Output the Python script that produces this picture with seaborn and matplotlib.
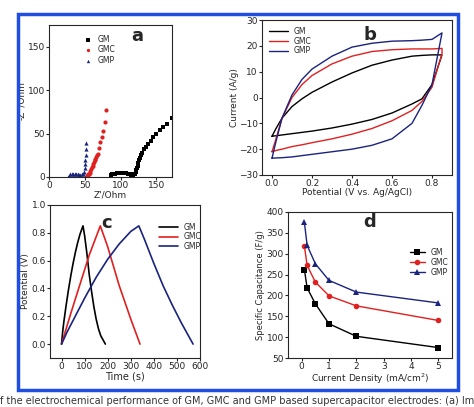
import numpy as np
import pandas as pd
import matplotlib
matplotlib.use("Agg")
import matplotlib.pyplot as plt
import seaborn as sns
from matplotlib.patches import Rectangle

sns.set_style("ticks")
plt.rcParams['font.family'] = ['DejaVu Sans']

names = ['GM', 'GMC', 'GMP']
colors = ['black', '#e02020', '#1a237e']

# (a) Nyquist
nyq_x = {
    'GM': [86, 88, 90, 92, 95, 98, 101, 104, 107, 110, 113, 115, 117, 118, 119, 120, 121, 122, 123, 124, 125, 126,
           127, 128, 130, 133, 136, 139, 142, 146, 150, 155, 160, 165, 172],
    'GMC': [52, 53, 54, 55, 56, 57, 58, 59, 60, 61, 62, 63, 64, 65, 66, 67, 68, 70, 72, 74, 76, 78, 80],
    'GMP': [26, 28, 30, 32, 34, 36, 38, 40, 42, 44, 46, 48, 49, 50, 50.5, 51, 51.3, 51.6, 52],
}
nyq_y = {
    'GM': [2, 3, 3.5, 4, 4.5, 5, 5, 5, 4.5, 4, 3, 2.5, 2, 2, 3, 4, 6, 8, 10, 13, 16, 19, 22, 25, 28, 32, 35, 38, 42,
           46, 50, 54, 58, 61, 68],
    'GMC': [0, 1, 2, 3, 4, 5, 7, 9, 11, 13, 15, 17, 19, 21, 23, 25, 27, 33, 40, 46, 53, 63, 77],
    'GMP': [0, 1.5, 3, 3.5, 4, 4, 3.5, 3, 2.5, 2.5, 3, 4, 6, 10, 15, 20, 25, 32, 39],
}

# (b) CV
cv_v = [0, 0.02, 0.05, 0.1, 0.15, 0.2, 0.3, 0.4, 0.5, 0.6, 0.7, 0.75, 0.8, 0.85]
cv_up = {
    'GM': [-15, -12, -8, -3.5, -0.5, 2, 6, 9.5, 12.5, 14.5, 16, 16.3, 16.5, 16.5],
    'GMC': [-21, -16, -8, 0, 5, 8.5, 13, 16, 17.8, 18.5, 18.8, 18.8, 18.8, 19],
    'GMP': [-23.5, -17, -8, 1, 7, 11, 16, 19.5, 21, 21.8, 22, 22.2, 22.5, 25],
}
cv_dn = {
    'GM': [-15, -14.8, -14.5, -14, -13.5, -13, -11.8, -10.3, -8.5, -6, -2.5, -0.5, 5, 16.5],
    'GMC': [-21, -20.5, -20, -19, -18.3, -17.5, -16, -14.2, -12, -9, -5, -1.5, 4, 17],
    'GMP': [-23.5, -23.4, -23.3, -23, -22.5, -22, -21, -20, -18.5, -16, -10, -3, 5, 25],
}

# (c) charge/discharge
gcd_t = {
    'GM': [0, 5, 10, 20, 30, 40, 50, 60, 70, 80, 93, 100, 110, 120, 130, 140, 150, 160, 170, 180, 190],
    'GMC': [0, 40, 80, 120, 168, 200, 250, 300, 340],
    'GMP': [0, 25, 50, 75, 100, 150, 200, 250, 300, 335, 360, 400, 440, 480, 520, 550, 570],
}
gcd_v = {
    'GM': [0, 0.09, 0.16, 0.28, 0.39, 0.49, 0.58, 0.66, 0.73, 0.79, 0.85, 0.78, 0.65, 0.5, 0.38, 0.27, 0.18, 0.11,
           0.06, 0.03, 0],
    'GMC': [0, 0.22, 0.43, 0.64, 0.85, 0.7, 0.42, 0.18, 0],
    'GMP': [0, 0.09, 0.17, 0.25, 0.33, 0.48, 0.61, 0.72, 0.81, 0.85, 0.75, 0.58, 0.42, 0.28, 0.15, 0.06, 0],
}

# (d) specific capacitance
cur_density = [0.1, 0.2, 0.5, 1, 2, 5]
spec_cap = {
    'GM': [262, 218, 180, 132, 102, 75],
    'GMC': [318, 272, 232, 199, 175, 140],
    'GMP': [375, 320, 276, 236, 208, 182],
}
markers = ['s', 'o', '^']

W, H = 474, 407
fig = plt.figure(figsize=(W / 100, H / 100), dpi=100)

def ax_px(x0, y0, x1, y1):
    return fig.add_axes([x0 / W, 1 - y1 / H, (x1 - x0) / W, (y1 - y0) / H])

fig.patches.append(Rectangle((18 / W, 1 - 390 / H), 440 / W, 376 / H, transform=fig.transFigure,
                             fill=False, edgecolor='#1f4fe0', linewidth=2.5))
fs = 6.5

# a
ax = ax_px(49, 25, 172, 177)
for n, c, m in zip(names, colors, markers):
    sns.scatterplot(x=nyq_x[n], y=nyq_y[n], ax=ax, color=c, marker=m, s=9, linewidth=0, label=n)
ax.set_xlim(0, 172)
ax.set_ylim(0, 175)
ax.set_xticks([0, 50, 100, 150])
ax.set_yticks([0, 50, 100, 150])
ax.set_xlabel("Z'/Ohm", fontsize=fs, labelpad=0)
ax.set_ylabel("-Z''/Ohm", fontsize=fs, labelpad=1)
ax.legend(loc='upper left', bbox_to_anchor=(0.2, 0.98), fontsize=5.5, frameon=False, handletextpad=0.2,
          labelspacing=0.2, markerscale=0.8)
ax.text(0.72, 0.93, 'a', transform=ax.transAxes, fontsize=13, fontweight='bold', ha='center', va='center')

# b
ax = ax_px(262, 20, 452, 175)
for n, c in zip(names, colors):
    loop_v = cv_v + cv_v[::-1]
    loop_i = cv_up[n] + cv_dn[n][::-1]
    ax.plot(loop_v, loop_i, color=c, lw=1, label=n)
ax.set_xlim(-0.05, 0.9)
ax.set_ylim(-30, 30)
ax.set_xticks([0, 0.2, 0.4, 0.6, 0.8])
ax.set_yticks([-30, -20, -10, 0, 10, 20, 30])
ax.set_xlabel('Potential (V vs. Ag/AgCl)', fontsize=fs, labelpad=0)
ax.set_ylabel('Current (A/g)', fontsize=fs, labelpad=0)
ax.legend(loc='upper left', fontsize=5.5, frameon=False, handlelength=2.5, labelspacing=0.1)
ax.text(0.57, 0.9, 'b', transform=ax.transAxes, fontsize=13, fontweight='bold', ha='center', va='center')

# c
ax = ax_px(50, 205, 200, 358)
for n, c in zip(names, colors):
    sns.lineplot(x=gcd_t[n], y=gcd_v[n], ax=ax, color=c, lw=1.2, label=n, sort=False)
ax.set_xlim(-50, 600)
ax.set_ylim(-0.1, 1.0)
ax.set_xticks([0, 100, 200, 300, 400, 500, 600])
ax.set_yticks([0, 0.2, 0.4, 0.6, 0.8, 1.0])
ax.set_xlabel('Time (s)', fontsize=fs + 0.5, labelpad=0)
ax.set_ylabel('Potential (V)', fontsize=fs, labelpad=1)
ax.legend(loc='upper left', bbox_to_anchor=(0.68, 0.93), fontsize=5.5, frameon=False, handlelength=2.5,
          labelspacing=0.1)
ax.text(0.38, 0.88, 'c', transform=ax.transAxes, fontsize=13, fontweight='bold', ha='center', va='center')

# d
ax = ax_px(288, 212, 452, 358)
for n, c, m in zip(names, colors, markers):
    sns.lineplot(x=cur_density, y=spec_cap[n], ax=ax, color=c, marker=m, markersize=4, markeredgewidth=0,
                 lw=1, label=n)
ax.set_xlim(-0.5, 5.5)
ax.set_ylim(50, 400)
ax.set_xticks([0, 1, 2, 3, 4, 5])
ax.set_yticks([50, 100, 150, 200, 250, 300, 350, 400])
ax.set_xlabel('Current Density (mA/cm$^2$)', fontsize=fs, labelpad=0)
ax.set_ylabel('Specific Capacitance (F/g)', fontsize=fs - 0.5, labelpad=1)
ax.legend(loc='upper left', bbox_to_anchor=(0.7, 0.8), fontsize=5.5, frameon=False, handlelength=2,
          labelspacing=0.1)
ax.text(0.5, 0.93, 'd', transform=ax.transAxes, fontsize=13, fontweight='bold', ha='center', va='center')

for a in fig.axes:
    a.tick_params(labelsize=fs, length=2, pad=1, direction='out')
    for s in a.spines.values():
        s.set_visible(True)
        s.set_linewidth(0.8)

fig.text(0.0, 1 - 401 / H, 'f the electrochemical performance of GM, GMC and GMP based supercapacitor electrodes: (a) Impedance',
         fontsize=7, va='center', ha='left', color='#333333')

fig.savefig('out.png', dpi=100)
